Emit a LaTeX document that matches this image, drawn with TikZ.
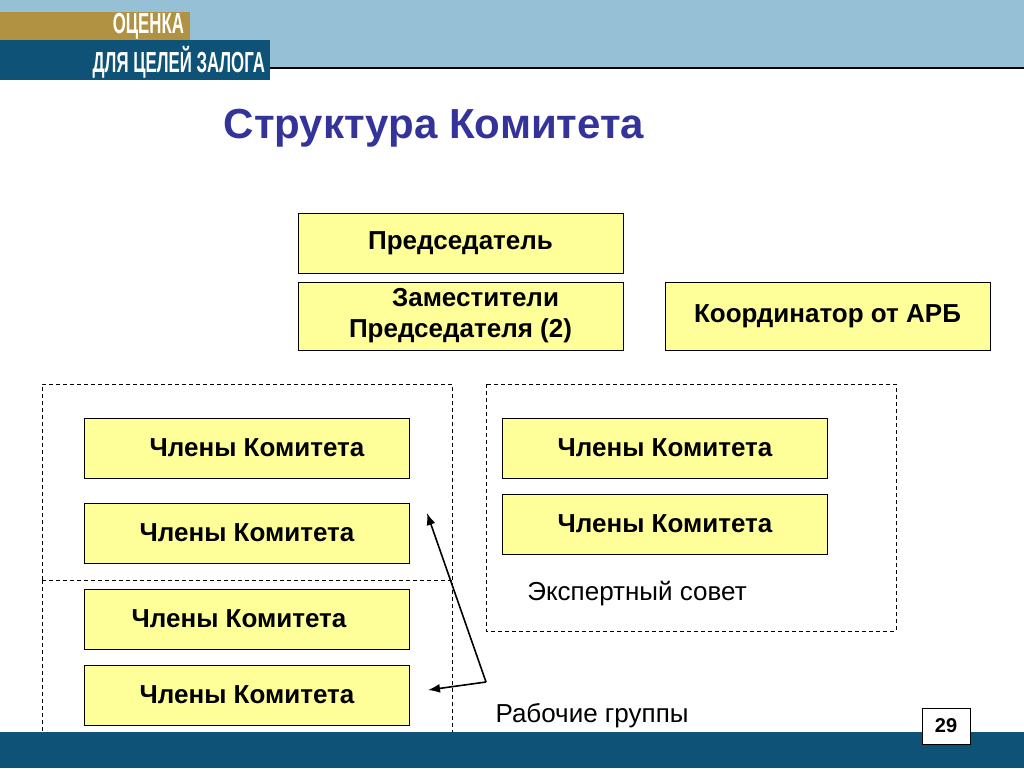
\documentclass[tikz,border=0pt]{standalone}
\usepackage{fontspec}
\setmainfont{Liberation Sans}
\usetikzlibrary{positioning}
\usetikzlibrary{arrows.meta}
\definecolor{boxyellow}{RGB}{255,255,153}
\definecolor{topblue}{RGB}{150,192,214}
\definecolor{darkblue}{RGB}{14,82,120}
\definecolor{gold}{RGB}{176,146,66}
\definecolor{titleblue}{RGB}{51,51,153}
\tikzset{
  member/.style={draw, fill=boxyellow, minimum width=325pt, minimum height=60pt, font=\bfseries\fontsize{26}{31}\selectfont, align=center, inner sep=0pt},
  group/.style={draw, dash pattern=on 4pt off 3pt, line width=0.8pt}
}
\begin{document}
\begin{tikzpicture}[x=1pt,y=-1pt]
\useasboundingbox (0,0) rectangle (1024,768);

% header
\fill[topblue] (0,0) rectangle (1024,68);
\draw[line width=1.5pt] (270,68) -- (1024,68);
\fill[gold] (0,12) rectangle (190,40);
\fill[darkblue] (0,40) rectangle (270,80);
\node[white, font=\bfseries\fontsize{29}{32}\selectfont, anchor=east, xscale=0.58] (brand1) at (186,26) {ОЦЕНКА};
\node[white, font=\bfseries\fontsize{29}{32}\selectfont, anchor=east, xscale=0.58] (brand2) at (267,62) {ДЛЯ ЦЕЛЕЙ ЗАЛОГА};

% title
\node[titleblue, font=\bfseries\fontsize{42}{48}\selectfont] (title) at (434,128) {Структура Комитета};

% top boxes
\node[member] (chair) at (460.5,243) {Председатель};
\node[member, minimum height=68pt] (deputy) at (460.5,316) {\hspace{30pt}Заместители\\ Председателя (2)};
\node[member, minimum height=68pt] (coord) at (827.5,316) {Координатор от АРБ};

% groups
\draw[group] (42,580) -- (42,384) -- (452,384) -- (452,732);
\draw[group] (42,580) -- (452,580);
\draw[group] (42,580) -- (42,732);
\draw[group] (486,384) rectangle (896,631);

\node[member] (memA) at (247,448) {\hspace{20pt}Члены Комитета};
\node[member] (memB) at (247,533) {Члены Комитета};
\node[member] (memC) at (247,619) {\hspace{-16pt}Члены Комитета};
\node[member] (memD) at (247,695) {Члены Комитета};
\node[member] (memE) at (665,448) {Члены Комитета};
\node[member] (memF) at (665,524) {Члены Комитета};

\node[font=\fontsize{26}{31}\selectfont] (expert) at (637,594) {Экспертный совет};
\node[font=\fontsize{26}{31}\selectfont] (workgr) at (592,716) {Рабочие группы};

% arrows
\coordinate (fork) at (486,682);
\coordinate (tipB) at (427,513);
\coordinate (tipD) at (428,690);
\draw[-{Latex[length=12pt,width=9pt]}, line width=1.6pt] (fork) -- (tipB);
\draw[-{Latex[length=12pt,width=9pt]}, line width=1.6pt] (fork) -- (tipD);

% footer
\fill[darkblue] (0,732) rectangle (1024,768);
\node[draw, line width=1pt, fill=white, minimum width=48pt, minimum height=36pt, font=\bfseries\fontsize{20}{22}\selectfont] (page) at (946,726) {29};
\end{tikzpicture}
\end{document}
